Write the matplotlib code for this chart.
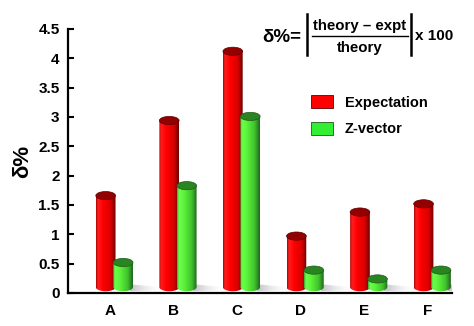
#Relative error of two methods per system, drawn as shaded cylinders
import numpy as np
import matplotlib.pyplot as plt
from matplotlib.colors import LinearSegmentedColormap
from matplotlib.patches import Ellipse, Patch, Polygon
from matplotlib.lines import Line2D

systems = ['A', 'B', 'C', 'D', 'E', 'F']
expectation = [1.66, 2.94, 4.12, 0.97, 1.38, 1.52]
z_vector = [0.52, 1.83, 3.01, 0.39, 0.24, 0.39]
yticks = [0, 0.5, 1, 1.5, 2, 2.5, 3, 3.5, 4, 4.5]

BASE = 0.1
WIDTH = 0.31
OFFSET = 0.1375
CAP_H = 0.14

red_cmap = LinearSegmentedColormap.from_list('red_cyl', [
    (0.0, '#a00000'), (0.08, '#ff2020'), (0.35, '#ff0000'),
    (0.75, '#d80000'), (1.0, '#6a0000')])
green_cmap = LinearSegmentedColormap.from_list('green_cyl', [
    (0.0, '#2fa02f'), (0.08, '#6cff4a'), (0.35, '#5cf23a'),
    (0.75, '#3fc02c'), (1.0, '#1f661f')])
shadow_cmap = LinearSegmentedColormap.from_list('shadow', [
    (0.0, (0.55, 0.55, 0.6, 0.55)), (1.0, (1, 1, 1, 0.0))])


def cylinder(ax, bar, cmap, capcolor, edge):
    x0 = bar.get_x()
    w = bar.get_width()
    y0 = bar.get_y()
    top = y0 + bar.get_height()
    # outline: left side, bottom half ellipse, right side
    t = np.linspace(np.pi, 2 * np.pi, 40)
    bx = x0 + w / 2 + (w / 2) * np.cos(t)
    by = y0 + (CAP_H / 2) * np.sin(t)
    pts = [(x0, top)] + list(zip(bx, by)) + [(x0 + w, top)]
    clip = Polygon(pts, closed=True, transform=ax.transData)
    grad = np.linspace(0, 1, 64).reshape(1, -1)
    im = ax.imshow(grad, cmap=cmap, aspect='auto', zorder=bar.get_zorder(),
                   extent=(x0, x0 + w, y0 - CAP_H, top), interpolation='bicubic')
    im.set_clip_path(clip)
    ax.add_patch(Ellipse((x0 + w / 2, top), w, CAP_H, facecolor=capcolor,
                         edgecolor=edge, linewidth=0.5,
                         zorder=bar.get_zorder() + 0.1))


def shadow(ax, bar):
    # soft grey shadow on the floor to the right of the bar
    x1 = bar.get_x() + bar.get_width()
    y0 = bar.get_y()
    pts = [(x1 - 0.05, y0 + 0.05), (x1 + 0.5, y0 - 0.01),
           (x1 + 0.5, y0 - 0.05), (x1 - 0.05, y0 - 0.07)]
    clip = Polygon(pts, closed=True, transform=ax.transData)
    grad = np.linspace(0, 1, 64).reshape(1, -1)
    im = ax.imshow(grad, cmap=shadow_cmap, aspect='auto', zorder=1,
                   extent=(x1 - 0.05, x1 + 0.5, y0 - 0.07, y0 + 0.05))
    im.set_clip_path(clip)


fig = plt.figure(figsize=(4.74, 3.26), dpi=100)
ax = fig.add_axes([68 / 474, 1 - 293 / 326, (452 - 68) / 474, (293 - 29) / 326])

x = np.arange(len(systems))
red_bars = ax.bar(x - OFFSET, np.array(expectation) - BASE, bottom=BASE,
                  width=WIDTH, color='none', zorder=2)
green_bars = ax.bar(x + OFFSET, np.array(z_vector) - BASE, bottom=BASE,
                    width=WIDTH, color='none', zorder=3)
for b in green_bars:
    shadow(ax, b)
for b in red_bars:
    cylinder(ax, b, red_cmap, '#940000', '#5a0000')
for b in green_bars:
    cylinder(ax, b, green_cmap, '#2a8420', '#1d5a1d')

ax.set_xlim(-0.73, 5.31)
ax.set_ylim(0, 4.5)
ax.set_yticks(yticks)
ax.set_yticklabels(['0', '0.5', '1', '1.5', '2', '2.5', '3', '3.5', '4', '4.5'],
                   fontsize=11, fontweight='bold', family='Liberation Sans')
ax.set_xticks(x - 0.07)
ax.set_xticklabels(systems, fontsize=11, fontweight='bold', family='Liberation Sans')
ax.tick_params(axis='y', direction='in', length=4, width=1.5, pad=6)
ax.tick_params(axis='x', length=0, pad=8)
for s in ['top', 'right']:
    ax.spines[s].set_visible(False)
for s in ['left', 'bottom']:
    ax.spines[s].set_linewidth(1.6)
ax.set_ylabel('δ%', fontsize=16, fontweight='bold', family='Liberation Sans', labelpad=4)

handles = [Patch(facecolor='#ff0000', edgecolor='#600000', linewidth=0.6),
           Patch(facecolor='#33ee33', edgecolor='#1d5a1d', linewidth=0.6)]
fig.legend(handles, ['Expectation', 'Z-vector'], loc='upper left',
           bbox_to_anchor=(311 / 474, 1 - 95 / 326), frameon=False,
           prop={'family': 'Liberation Sans', 'weight': 'bold', 'size': 10.5},
           handlelength=1.5, handleheight=1.0, handletextpad=0.8,
           labelspacing=0.85, borderpad=0, borderaxespad=0)

# error formula in the top right corner
fkw = dict(family='Liberation Sans', fontweight='bold', va='center')
fig.text(262 / 474, 1 - 37 / 326, 'δ%=', fontsize=13.5, ha='left', **fkw)
fig.text(360 / 474, 1 - 26 / 326, 'theory – expt', fontsize=10.8, ha='center', **fkw)
fig.text(360 / 474, 1 - 48 / 326, 'theory', fontsize=10.8, ha='center', **fkw)
fig.text(415 / 474, 1 - 36 / 326, 'x 100', fontsize=11, ha='left', **fkw)
fig.add_artist(Line2D([312 / 474, 408 / 474], [1 - 36 / 326, 1 - 36 / 326],
                      color='black', linewidth=1.0))
for xb in [307, 411]:
    fig.add_artist(Line2D([xb / 474, xb / 474], [1 - 14 / 326, 1 - 55 / 326],
                          color='black', linewidth=1.8))

fig.savefig('out.png', dpi=100)
